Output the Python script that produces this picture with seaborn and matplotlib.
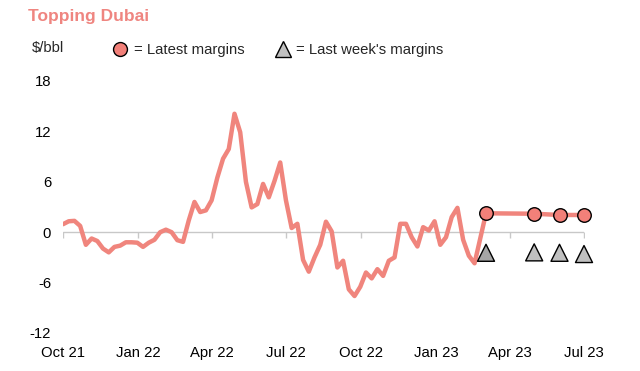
"""
Topping Dubai margin chart: weekly history plus latest / last week's monthly margins.
"""

import matplotlib
matplotlib.use("Agg")
import matplotlib.dates as mdates
import matplotlib.pyplot as plt
from matplotlib.lines import Line2D
import pandas as pd
import seaborn as sns

# weekly history, $/bbl, starting 1 Oct 2021
HIST_START = "2021-10-01"
HIST_VALUES = [
    0.95, 1.3, 1.35, 0.75, -1.5, -0.75, -1.05, -1.95, -2.4, -1.75,
    -1.6, -1.2, -1.2, -1.25, -1.75, -1.25, -0.9, 0.0, 0.3, 0.0,
    -0.95, -1.15, 1.4, 3.6, 2.4, 2.6, 3.8, 6.5, 8.75, 9.9,
    14.1, 11.9, 6.0, 2.95, 3.35, 5.75, 4.15, 6.1, 8.3, 3.8,
    0.5, 1.0, -3.3, -4.7, -3.0, -1.5, 1.25, 0.1, -4.2, -3.4,
    -6.8, -7.6, -6.5, -4.8, -5.5, -4.4, -5.2, -3.4, -3.0, 1.0,
    1.0, -0.6, -1.7, 0.6, 0.2, 1.3, -1.5, -0.6, 1.8, 2.9,
    -0.9, -2.8, -3.7,
]

# monthly margins
MONTHS = ["2023-03-03", "2023-05-01", "2023-06-01", "2023-07-01"]
LATEST = [2.25, 2.2, 2.05, 2.05]
LAST_WEEK = [-2.45, -2.4, -2.45, -2.6]
TRIANGLE_COLORS = ["#A6A6A6", "#C0C0C0", "#C0C0C0", "#C0C0C0"]

QUARTERS = ["2021-10-01", "2022-01-01", "2022-04-01", "2022-07-01",
            "2022-10-01", "2023-01-01", "2023-04-01", "2023-07-01"]

LINE_COLOR = "#F0857D"
MARKER_COLOR = "#F28079"
TITLE_COLOR = "#EF8580"
GRID_COLOR = "#C8C8C8"
FONT_SIZE = 10.7

sns.set_theme(style="white")
plt.rcParams["font.family"] = ["Liberation Sans", "DejaVu Sans"]
plt.rcParams["axes.unicode_minus"] = False

hist = pd.DataFrame({
    "date": pd.date_range(HIST_START, periods=len(HIST_VALUES), freq="7D"),
    "value": HIST_VALUES,
})
latest = pd.DataFrame({"date": pd.to_datetime(MONTHS), "value": LATEST})
last_week = pd.DataFrame({"date": pd.to_datetime(MONTHS), "value": LAST_WEEK})
line = pd.concat([hist, latest], ignore_index=True)

fig = plt.figure(figsize=(6.4, 3.71), dpi=100)
ax = fig.add_axes([63 / 640, 1 - 333 / 371, (584 - 63) / 640, (333 - 81) / 371])

# zero line with small quarter ticks
ax.axhline(0, color=GRID_COLOR, lw=1, zorder=1)
ax.plot(pd.to_datetime(QUARTERS), [0] * len(QUARTERS), linestyle="none",
        marker=3, markersize=4, color=GRID_COLOR, markeredgewidth=1, zorder=1)

sns.lineplot(data=line, x="date", y="value", ax=ax, color=LINE_COLOR,
             linewidth=3.2, zorder=2)
sns.scatterplot(data=last_week, x="date", y="value", ax=ax, marker="^",
                s=150, c=TRIANGLE_COLORS, edgecolor="black", linewidth=1,
                zorder=3, clip_on=False)
sns.scatterplot(data=latest, x="date", y="value", ax=ax, marker="o",
                s=95, color=MARKER_COLOR, edgecolor="black", linewidth=1,
                zorder=4, clip_on=False)

ax.set_xlim(pd.Timestamp("2021-10-01"), pd.Timestamp("2023-07-01"))
ax.set_ylim(-12, 18)
ax.set_yticks([-12, -6, 0, 6, 12, 18])
ax.xaxis.set_major_locator(mdates.MonthLocator(bymonth=[1, 4, 7, 10]))
ax.xaxis.set_major_formatter(mdates.DateFormatter("%b %y"))
ax.tick_params(axis="both", length=0, labelsize=FONT_SIZE, colors="black")
ax.tick_params(axis="y", pad=8.5)
ax.tick_params(axis="x", pad=9.5)
ax.set_xlabel("")
ax.set_ylabel("")
sns.despine(ax=ax, left=True, bottom=True)

fig.text(28 / 640, 1 - 17 / 371, "Topping Dubai", color=TITLE_COLOR,
         fontsize=12.5, fontweight="bold", va="center", ha="left")
fig.text(32 / 640, 1 - 48 / 371, "$/bbl", fontsize=FONT_SIZE,
         va="center", ha="left")

handles = [
    Line2D([], [], linestyle="none", marker="o", markersize=10,
           markerfacecolor=MARKER_COLOR, markeredgecolor="black"),
    Line2D([], [], linestyle="none", marker="^", markersize=12,
           markerfacecolor="#C0C0C0", markeredgecolor="black"),
]
fig.legend(handles, ["= Latest margins", "= Last week's margins"],
           loc="center left", bbox_to_anchor=(113 / 640, 1 - 50 / 371),
           ncol=2, frameon=False, fontsize=FONT_SIZE, handlelength=1.0,
           handletextpad=0.4, columnspacing=2.1, borderaxespad=0,
           borderpad=0)

fig.savefig("out.png", dpi=100)
